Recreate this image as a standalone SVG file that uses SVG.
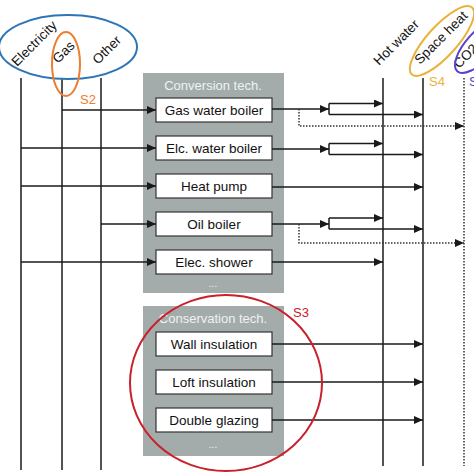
<svg xmlns="http://www.w3.org/2000/svg" width="474" height="474" viewBox="0 0 474 474">
<defs>
<marker id="ah" markerUnits="userSpaceOnUse" markerWidth="10" markerHeight="9" refX="9" refY="4" orient="auto"><path d="M0,0 L9,4 L0,8 z" fill="#1a1a1a"/></marker>
<style>
.ln{stroke:#1a1a1a;stroke-width:1.5;fill:none}
.ar{stroke:#1a1a1a;stroke-width:1.5;fill:none;marker-end:url(#ah)}
.dt{stroke:#333;stroke-width:1.5;fill:none;stroke-dasharray:1.5 1.5}
.dta{stroke:#333;stroke-width:1.5;fill:none;stroke-dasharray:1.5 1.5;marker-end:url(#ah)}
.lab{font-family:"Liberation Sans",Arial,sans-serif;font-size:13.5px;fill:#111}
.box{fill:#fff;stroke:#333;stroke-width:1.2}
.grp{fill:#a3acab}
.ttl{font-family:"Liberation Sans",Arial,sans-serif;font-size:13px;fill:#eef2f2;text-anchor:middle}
.bt{font-family:"Liberation Sans",Arial,sans-serif;font-size:13.5px;fill:#111;text-anchor:middle}
.s{font-family:"Liberation Sans",Arial,sans-serif;font-size:13px}
</style>
</defs>
<rect width="474" height="474" fill="#fff"/>
<g id="carriers">
<line class="ln" x1="21" y1="78" x2="21" y2="470"/>
<line class="ln" x1="62" y1="78" x2="62" y2="470"/>
<line class="ln" x1="101" y1="78" x2="101" y2="470"/>
<line class="ln" x1="383" y1="78" x2="383" y2="466"/>
<line class="ln" x1="423" y1="78" x2="423" y2="466"/>
<line class="dt" x1="464" y1="78" x2="464" y2="466"/>
<text class="lab" transform="translate(17,67) rotate(-45)">Electricity</text>
<text class="lab" transform="translate(58,64) rotate(-45)">Gas</text>
<text class="lab" transform="translate(98,65) rotate(-45)">Other</text>
<text class="lab" transform="translate(379,66) rotate(-45)">Hot water</text>
<text class="lab" transform="translate(420,65) rotate(-45)">Space heat</text>
<text class="lab" transform="translate(459,69) rotate(-45)">CO2</text>
</g>
<g id="conversion">
<rect class="grp" x="143" y="73" width="141" height="220"/>
<text class="ttl" x="213" y="90">Conversion tech.</text>
<g id="gwb"><rect class="box" x="156" y="98" width="116" height="24"/><text class="bt" x="214" y="115">Gas water boiler</text></g>
<g id="ewb"><rect class="box" x="156" y="136" width="116" height="24"/><text class="bt" x="214" y="153">Elc. water boiler</text></g>
<g id="hp"><rect class="box" x="156" y="174" width="116" height="24"/><text class="bt" x="214" y="191">Heat pump</text></g>
<g id="ob"><rect class="box" x="156" y="212" width="116" height="24"/><text class="bt" x="214" y="229">Oil boiler</text></g>
<g id="es"><rect class="box" x="156" y="250" width="116" height="24"/><text class="bt" x="214" y="267">Elec. shower</text></g>
<text class="ttl" x="213" y="287" style="font-size:10px">...</text>
</g>
<g id="conservation">
<rect class="grp" x="143" y="306" width="141" height="150"/>
<text class="ttl" x="213" y="323">Conservation tech.</text>
<g id="wi"><rect class="box" x="156" y="332" width="116" height="24"/><text class="bt" x="214" y="349">Wall insulation</text></g>
<g id="li"><rect class="box" x="156" y="370" width="116" height="24"/><text class="bt" x="214" y="387">Loft insulation</text></g>
<g id="dg"><rect class="box" x="156" y="408" width="116" height="24"/><text class="bt" x="214" y="425">Double glazing</text></g>
<text class="ttl" x="213" y="448" style="font-size:10px">...</text>
</g>
<g id="connectors">
<line class="ar" x1="62" y1="110" x2="156" y2="110"/>
<line class="ar" x1="21" y1="148" x2="156" y2="148"/>
<line class="ar" x1="21" y1="186" x2="156" y2="186"/>
<line class="ar" x1="101" y1="224" x2="156" y2="224"/>
<line class="ar" x1="21" y1="262" x2="156" y2="262"/>
<line class="ar" x1="272" y1="109" x2="329" y2="109"/>
<line class="ln" x1="329" y1="103.5" x2="329" y2="114.5"/>
<line class="ar" x1="329" y1="103.5" x2="383" y2="103.5"/>
<line class="ar" x1="329" y1="114.5" x2="423" y2="114.5"/>
<polyline class="dta" points="299,109 299,126 464,126"/>
<line class="ar" x1="272" y1="149" x2="329" y2="149"/>
<line class="ln" x1="329" y1="143.5" x2="329" y2="154.5"/>
<line class="ar" x1="329" y1="143.5" x2="383" y2="143.5"/>
<line class="ar" x1="329" y1="154.5" x2="423" y2="154.5"/>
<line class="ar" x1="272" y1="187" x2="423" y2="187"/>
<line class="ar" x1="272" y1="224" x2="329" y2="224"/>
<line class="ln" x1="329" y1="218" x2="329" y2="229"/>
<line class="ar" x1="329" y1="218" x2="383" y2="218"/>
<line class="ar" x1="329" y1="229" x2="423" y2="229"/>
<polyline class="dta" points="299,224 299,243 464,243"/>
<line class="ar" x1="272" y1="262" x2="383" y2="262"/>
<line class="ar" x1="272" y1="344" x2="423" y2="344"/>
<line class="ar" x1="272" y1="382" x2="423" y2="382"/>
<line class="ar" x1="272" y1="420" x2="423" y2="420"/>
</g>
<g id="scopes">
<ellipse cx="68" cy="47" rx="69" ry="32" fill="none" stroke="#2e75b6" stroke-width="2"/>
<ellipse cx="66" cy="64" rx="14" ry="32" fill="none" stroke="#ed7d31" stroke-width="2"/>
<text class="s" x="80" y="104" fill="#ed7d31">S2</text>
<ellipse cx="226" cy="383" rx="96" ry="88" fill="none" stroke="#c9202c" stroke-width="2"/>
<text class="s" x="293" y="317" fill="#c9202c">S3</text>
<ellipse cx="442" cy="41" rx="45" ry="15" transform="rotate(-48 442 41)" fill="none" stroke="#e9b23a" stroke-width="2"/>
<text class="s" x="429" y="86" fill="#e9b23a">S4</text>
<ellipse cx="480" cy="46" rx="34" ry="14" transform="rotate(-48 480 46)" fill="none" stroke="#5b3fd0" stroke-width="2"/>
<text class="s" x="469" y="86" fill="#5b3fd0">S5</text>
</g>
</svg>
